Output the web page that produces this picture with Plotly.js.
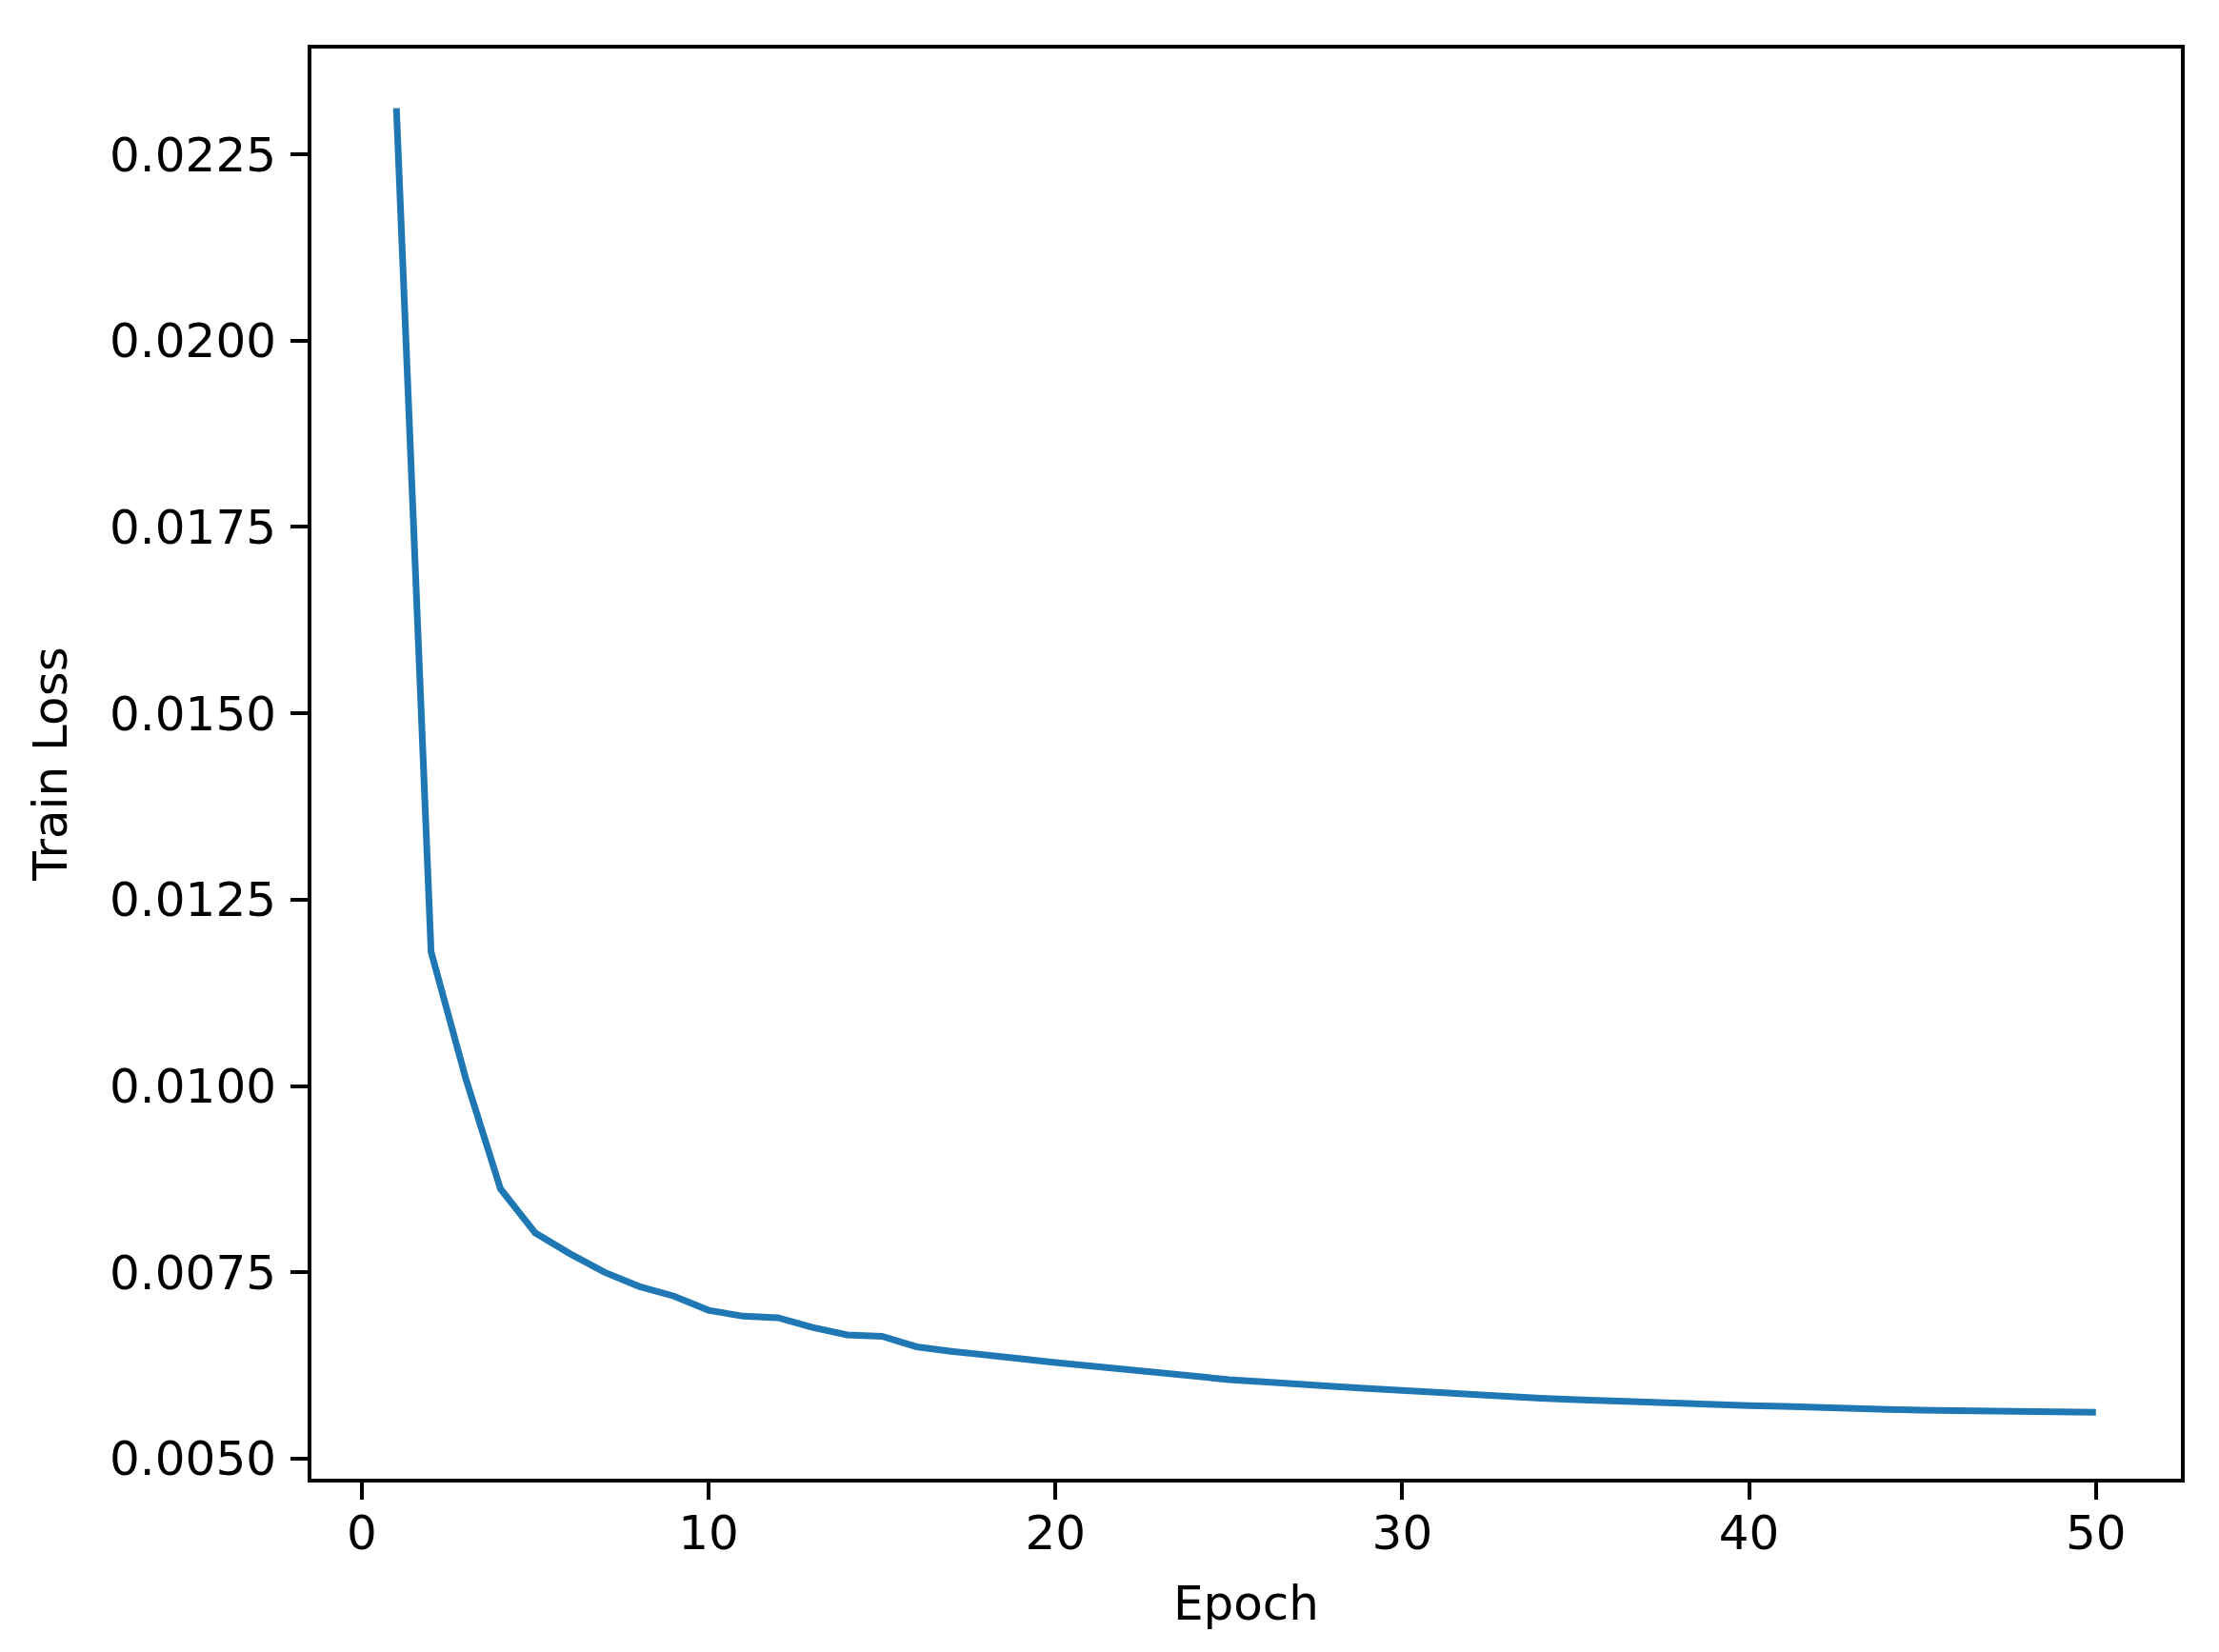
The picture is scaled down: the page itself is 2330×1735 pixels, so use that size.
<!DOCTYPE html>
<html>
<head>
<meta charset="utf-8">
<script src="https://cdn.plot.ly/plotly-3.0.1.min.js"></script>
<style>html,body{margin:0;padding:0;background:#fff;}#chart{width:2330px;height:1735px;}</style>
</head>
<body>
<div id="chart"></div>
<script>
const epochs = [1,2,3,4,5,6,7,8,9,10,11,12,13,14,15,16,17,18,19,20,21,22,23,24,25,26,27,28,29,30,31,32,33,34,35,36,37,38,39,40,41,42,43,44,45,46,47,48,49,50];
const trainLoss = [0.02312,0.01180,0.01010,0.00862,0.00803,0.00775,0.00750,0.00731,0.00718,0.00699,
  0.00691,0.00689,0.00676,0.00666,0.00664,0.00650,0.00644,0.00638,0.00634,0.00629,
  0.00624,0.00619,0.00615,0.00610,0.00606,0.00603,0.00599,0.00597,0.00594,0.00591,
  0.00588,0.00585,0.00583,0.00581,0.00579,0.00577,0.00575,0.00574,0.00572,0.00571,
  0.00570,0.00568,0.00567,0.00566,0.00565,0.00564,0.00563,0.00563,0.00562,0.00562];
const xTicks = [0,10,20,30,40,50];
const yTicks = [0.0050,0.0075,0.0100,0.0125,0.0150,0.0175,0.0200,0.0225];
const yTickText = ["0.0050","0.0075","0.0100","0.0125","0.0150","0.0175","0.0200","0.0225"];
const xLabel = "Epoch";
const yLabel = "Train Loss";

const font = {family: "DejaVu Sans", size: 50, color: "#000"};
Plotly.newPlot("chart", [{
  x: epochs, y: trainLoss, type: "scatter", mode: "lines",
  line: {color: "#1f77b4", width: 7}
}], {
  width: 2330, height: 1735,
  margin: {l: 327, r: 40, t: 51, b: 182, pad: 0},
  paper_bgcolor: "#fff", plot_bgcolor: "#fff",
  showlegend: false,
  font: font,
  xaxis: {
    range: [-1.45, 52.45], tickvals: xTicks, ticktext: xTicks.map(String),
    showgrid: false, zeroline: false, showline: true, mirror: true,
    linecolor: "#000", linewidth: 4, ticks: "outside", ticklen: 18, tickwidth: 4, tickcolor: "#000",
    tickfont: font, automargin: false, ticklabelstandoff: -8,
    title: {text: xLabel, font: font, standoff: 29}
  },
  yaxis: {
    range: [0.00473, 0.02392], tickvals: yTicks, ticktext: yTickText,
    showgrid: false, zeroline: false, showline: true, mirror: true,
    linecolor: "#000", linewidth: 4, ticks: "outside", ticklen: 18, tickwidth: 4, tickcolor: "#000",
    tickfont: font, automargin: false, ticklabelstandoff: 5,
    title: {text: yLabel, font: font, standoff: 30}
  }
}, {staticPlot: true});
</script>
</body>
</html>
